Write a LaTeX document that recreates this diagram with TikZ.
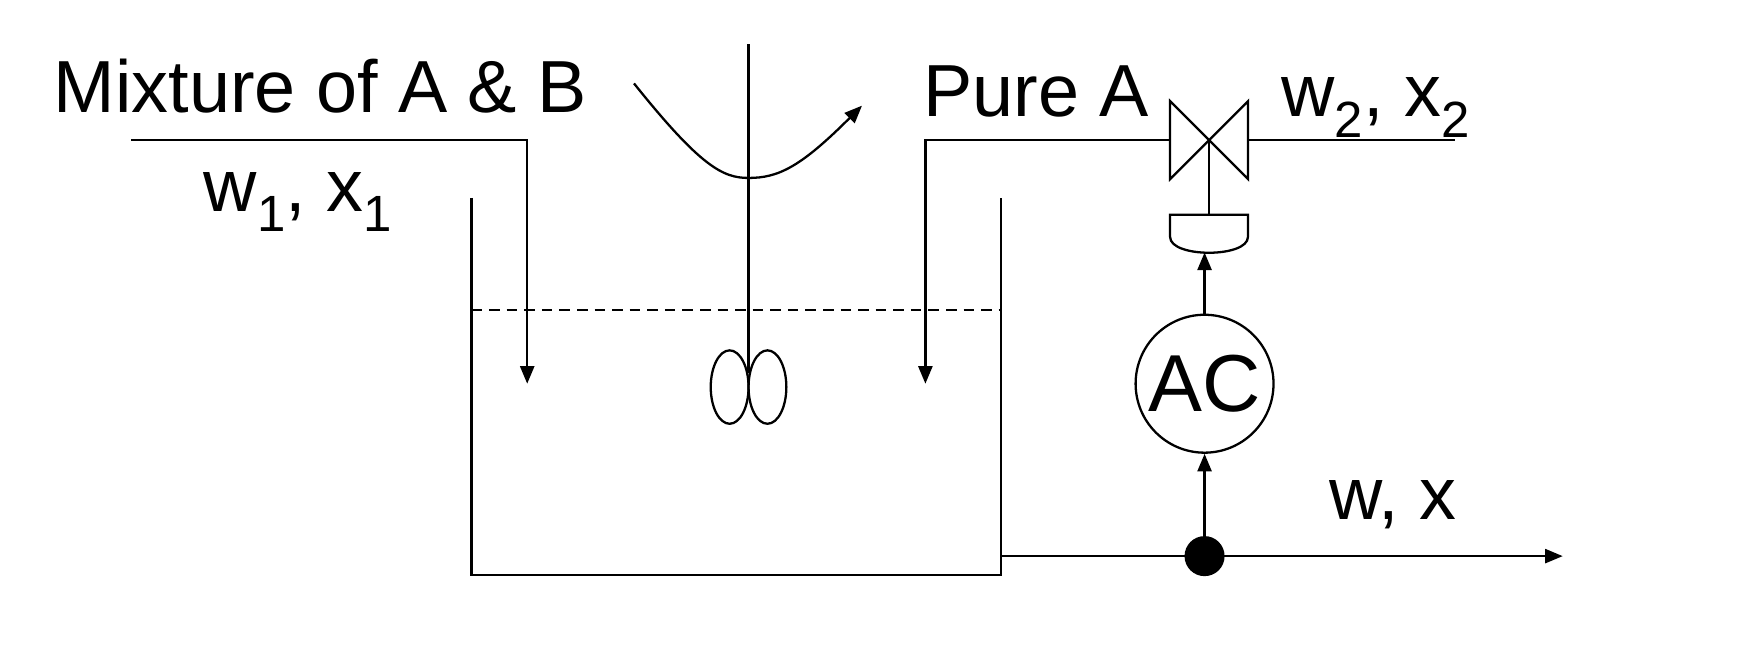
\documentclass[tikz,border=0pt]{standalone}
\usepackage{fontspec}
\setmainfont{Liberation Sans}
\usetikzlibrary{arrows.meta}
\newcommand{\lowsub}[1]{\raisebox{-0.28em}{\fontsize{29}{30}\selectfont #1}}
\begin{document}
\begin{tikzpicture}[x=0.02224cm,y=-0.02224cm,
  ln/.style={line width=1.3pt},
  arr/.style={ln,-{Triangle[length=10pt,width=8pt]}},
  lbl/.style={anchor=base west,inner sep=0pt,font=\fontsize{42}{50}\selectfont}]
\useasboundingbox (0,0) rectangle (1568,584.5);
% labels
\node[lbl] (mix) at (48,101) {Mixture of A \& B};
\node[lbl] (w1) at (183,190) {w\lowsub{1}, x\lowsub{1}};
\node[lbl] (pure) at (830,105) {Pure A};
\node[lbl] (w2) at (1152,105) {w\lowsub{2}, x\lowsub{2}};
\node[lbl] (wx) at (1195,467) {w, x};
% tank
\coordinate (tl) at (424,178); \coordinate (bl) at (424,517);
\coordinate (br) at (900,517); \coordinate (tr) at (900,178);
\draw[ln] (tl) -- (bl) -- (br) -- (tr);
\draw[ln,dashed,dash pattern=on 6pt off 4pt] (424,279) -- (900,279);
% inlet 1
\coordinate (i1s) at (118,126); \coordinate (i1c) at (474,126); \coordinate (i1e) at (474,345);
\draw[arr] (i1s) -- (i1c) -- (i1e);
% stirrer
\coordinate (sh1) at (673,40); \coordinate (sh2) at (673,335);
\draw[ln] (sh1) -- (sh2);
\draw[arr] (570,75) .. controls (630,150) and (650,160) .. (673,160) .. controls (700,160) and (720,150) .. (775,95);
\draw[ln] (656,348) ellipse (17 and 33);
\draw[ln] (690,348) ellipse (17 and 33);
% valve
\coordinate (vc) at (1087,126);
\draw[ln] (1052,91) -- (1122,161) -- (1122,91) -- (1052,161) -- cycle;
\coordinate (p2s) at (1052,126); \coordinate (p2c) at (832,126); \coordinate (p2e) at (832,345);
\draw[arr] (p2s) -- (p2c) -- (p2e);
\draw[ln] (1122,126) -- (1308,126);
% actuator
\draw[ln] (vc) -- (1087,193);
\draw[ln] (1052,213) -- (1052,193) -- (1122,193) -- (1122,213)
  .. controls (1122,232) and (1052,232) .. (1052,213);
% controller
\node[circle,draw,line width=1.3pt,minimum size=124*0.02224cm,inner sep=0pt,font=\fontsize{46}{50}\selectfont] (ac) at (1083,345) {AC};
\coordinate (act) at (1083,227);
\draw[arr] (ac.north) -- (act);
% outlet
\coordinate (o1) at (900,500); \coordinate (o2) at (1405,500);
\draw[arr] (o1) -- (o2);
\node[circle,fill=black,minimum size=36*0.02224cm,inner sep=0pt] (dot) at (1083,500) {};
\draw[arr] (dot.center) -- (ac.south);
\end{tikzpicture}
\end{document}
